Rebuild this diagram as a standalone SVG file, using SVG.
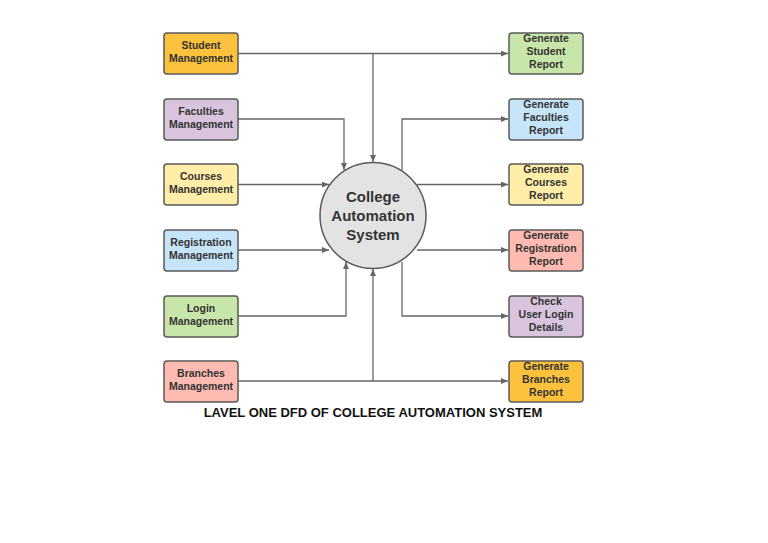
<svg xmlns="http://www.w3.org/2000/svg" width="768" height="543" viewBox="0 0 768 543">
<style>
.b{stroke:#5a5a5a;stroke-width:1.5}
.t{font-family:"Liberation Sans",Arial,sans-serif;font-weight:bold;font-size:10.5px;fill:#333;text-anchor:middle}
.c{fill:none;stroke:#666;stroke-width:1.3;marker-end:url(#a)}
.or{fill:#FCC23E}.pu{fill:#D9C4DD}.ye{fill:#FFEDA8}.bl{fill:#C7E5F8}.gr{fill:#C9E6AA}.pk{fill:#FFBAB2}
</style>
<defs><marker id="a" markerWidth="8" markerHeight="8" refX="7" refY="3" orient="auto" markerUnits="userSpaceOnUse"><path d="M0,0 L7,3 L0,6 z" fill="#666"/></marker></defs>
<rect width="768" height="543" fill="#fff"/>
<g id="connectors">
<path class="c" d="M238,53.5 H508"/>
<path class="c" d="M373,53.5 V162"/>
<path class="c" d="M238,119 H344 V170"/>
<path class="c" d="M238,184.5 H329"/>
<path class="c" d="M238,250 H329"/>
<path class="c" d="M238,316 H346 V262"/>
<path class="c" d="M238,381 H508"/>
<path class="c" d="M373,381 V269"/>
<path class="c" d="M402,170 V119 H508"/>
<path class="c" d="M417,184.5 H508"/>
<path class="c" d="M417,250 H508"/>
<path class="c" d="M402,262 V316 H508"/>
</g>
<g id="center"><circle cx="373" cy="215.5" r="53" fill="#E3E3E3" stroke="#5a5a5a" stroke-width="1.5"/>
<text class="t" style="font-size:15px" x="373" y="202">College</text>
<text class="t" style="font-size:15px" x="373" y="221">Automation</text>
<text class="t" style="font-size:15px" x="373" y="240">System</text></g>
<g id="student"><rect class="b or" x="164" y="33" width="74" height="41" rx="3"/><text class="t" x="201" y="49">Student</text><text class="t" x="201" y="62">Management</text></g>
<g id="faculties"><rect class="b pu" x="164" y="99" width="74" height="41" rx="3"/><text class="t" x="201" y="115">Faculties</text><text class="t" x="201" y="128">Management</text></g>
<g id="courses"><rect class="b ye" x="164" y="164" width="74" height="41" rx="3"/><text class="t" x="201" y="180">Courses</text><text class="t" x="201" y="193">Management</text></g>
<g id="registration"><rect class="b bl" x="164" y="230" width="74" height="41" rx="3"/><text class="t" x="201" y="246">Registration</text><text class="t" x="201" y="259">Management</text></g>
<g id="login"><rect class="b gr" x="164" y="296" width="74" height="41" rx="3"/><text class="t" x="201" y="312">Login</text><text class="t" x="201" y="325">Management</text></g>
<g id="branches"><rect class="b pk" x="164" y="361" width="74" height="41" rx="3"/><text class="t" x="201" y="377">Branches</text><text class="t" x="201" y="390">Management</text></g>
<g id="r-student"><rect class="b gr" x="509" y="33" width="74" height="41" rx="3"/><text class="t" x="546" y="42">Generate</text><text class="t" x="546" y="55">Student</text><text class="t" x="546" y="68">Report</text></g>
<g id="r-faculties"><rect class="b bl" x="509" y="99" width="74" height="41" rx="3"/><text class="t" x="546" y="108">Generate</text><text class="t" x="546" y="121">Faculties</text><text class="t" x="546" y="134">Report</text></g>
<g id="r-courses"><rect class="b ye" x="509" y="164" width="74" height="41" rx="3"/><text class="t" x="546" y="173">Generate</text><text class="t" x="546" y="186">Courses</text><text class="t" x="546" y="199">Report</text></g>
<g id="r-registration"><rect class="b pk" x="509" y="230" width="74" height="41" rx="3"/><text class="t" x="546" y="239">Generate</text><text class="t" x="546" y="252">Registration</text><text class="t" x="546" y="265">Report</text></g>
<g id="r-login"><rect class="b pu" x="509" y="296" width="74" height="41" rx="3"/><text class="t" x="546" y="305">Check</text><text class="t" x="546" y="318">User Login</text><text class="t" x="546" y="331">Details</text></g>
<g id="r-branches"><rect class="b or" x="509" y="361" width="74" height="41" rx="3"/><text class="t" x="546" y="370">Generate</text><text class="t" x="546" y="383">Branches</text><text class="t" x="546" y="396">Report</text></g>
<text class="t" style="font-size:13px;fill:#111" x="373" y="417">LAVEL ONE DFD OF COLLEGE AUTOMATION SYSTEM</text>
</svg>
